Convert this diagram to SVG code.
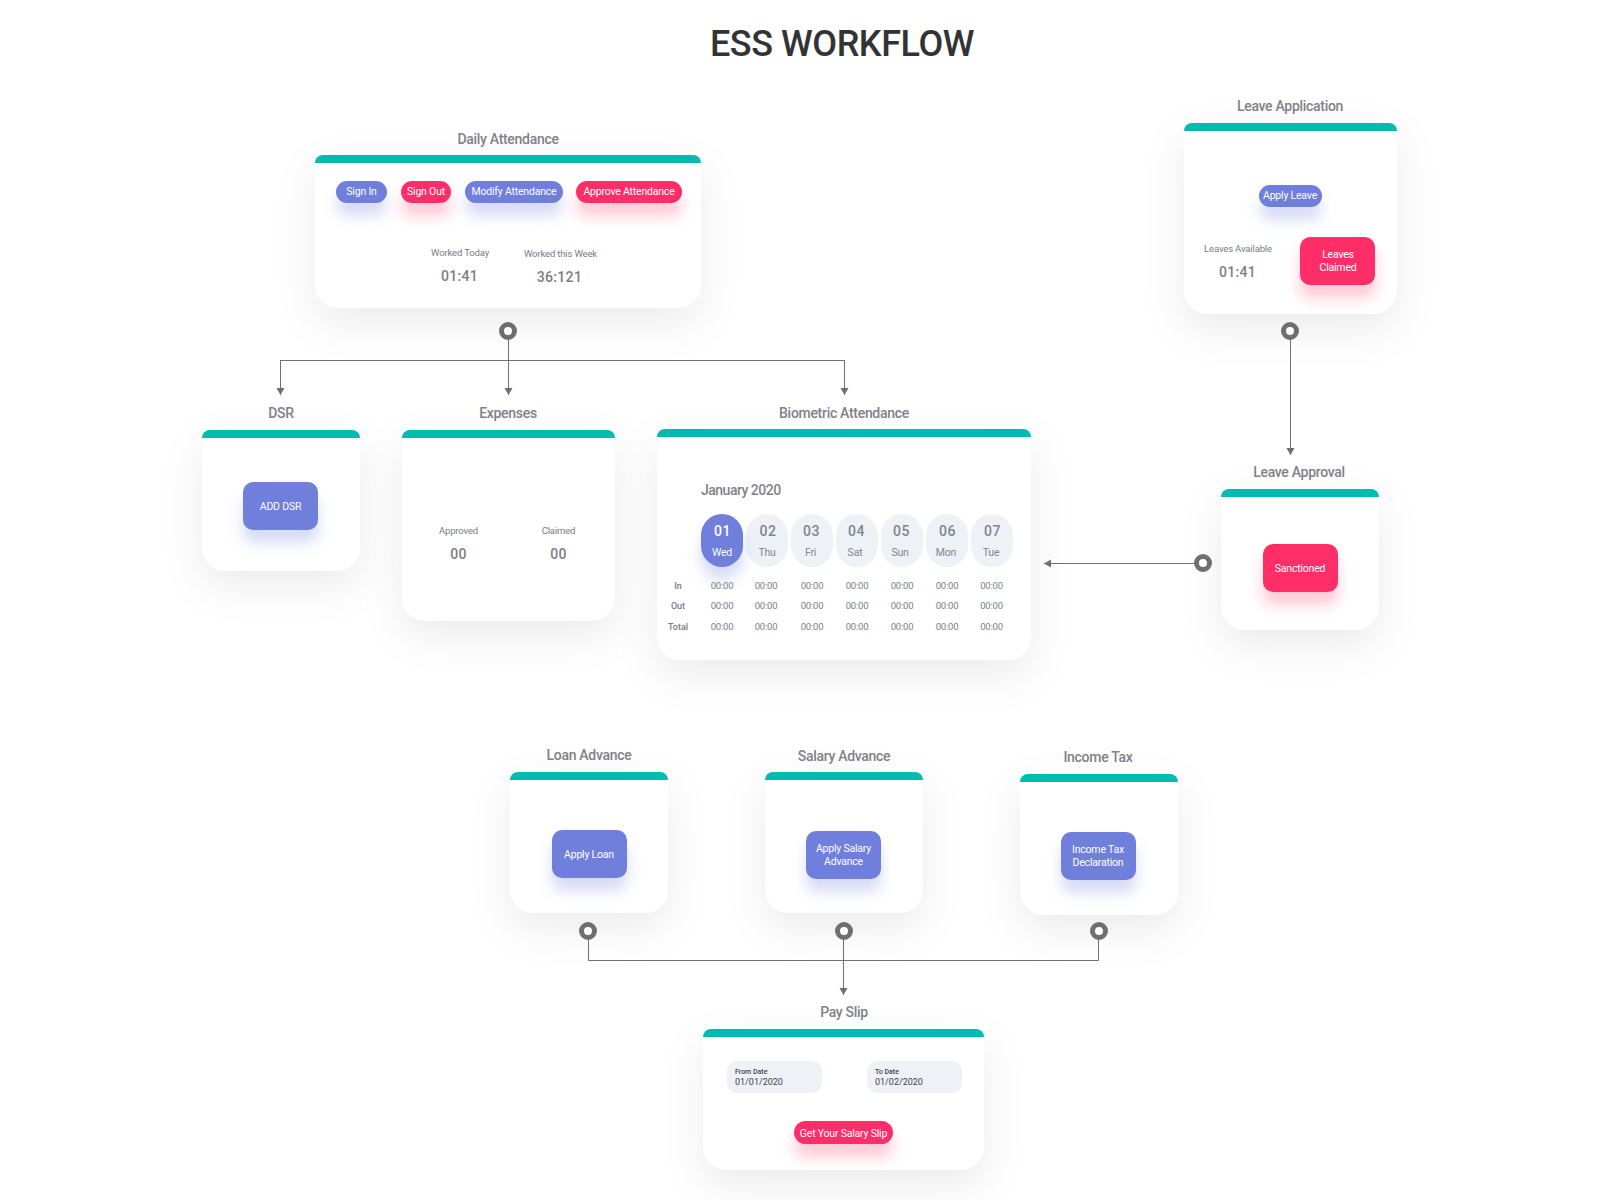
<svg xmlns="http://www.w3.org/2000/svg" width="1600" height="1200" viewBox="0 0 1600 1200">
<style>
text{font-family:Roboto,"Noto Sans",sans-serif;text-anchor:middle}
.bg{fill:#fff}
.card{fill:#fff;filter:url(#cs)}
.bar{fill:#00bcb0}
.h{font-size:14px;font-weight:500;fill:#7f8289;letter-spacing:-.3px}
.blue{fill:#707edc;filter:url(#bs)}
.pink{fill:#ff2f68;filter:url(#ps)}
.b{font-size:10.5px;fill:#fff;letter-spacing:-.2px}
.s{font-size:9.5px;fill:#767c86;letter-spacing:-.15px}
.v{font-size:14px;font-weight:500;fill:#7b7e85;letter-spacing:.3px}
.day{fill:#eef1f6}
.n{font-size:14px;font-weight:500;fill:#7f858c;letter-spacing:.5px}
.d{font-size:10.5px;fill:#7f858c;letter-spacing:-.2px}
.rl{font-size:9px;font-weight:500;fill:#767c86}
.rv{font-size:9.5px;fill:#7a808a;letter-spacing:-.2px}
.ln{fill:none;stroke:#6f6f6f;stroke-width:1}
.ar{marker-end:url(#ah)}
.ring{fill:#fff;stroke:#6f6f6f;stroke-width:5}
.fld{fill:#eef1f6}
.fl{font-size:7px;font-weight:500;fill:#3d424c;text-anchor:start}
.fv{font-size:9px;fill:#3d424c;text-anchor:start}
</style>
<defs>
<filter id="cs" x="-40%" y="-40%" width="180%" height="200%"><feDropShadow dx="0" dy="15" stdDeviation="20" flood-color="#000" flood-opacity=".08"/></filter>
<filter id="bs" x="-50%" y="-50%" width="200%" height="350%"><feDropShadow dx="0" dy="13" stdDeviation="7" flood-color="#707edc" flood-opacity=".28"/></filter>
<filter id="ps" x="-50%" y="-50%" width="200%" height="350%"><feDropShadow dx="0" dy="13" stdDeviation="7" flood-color="#ff2f68" flood-opacity=".26"/></filter>
<marker id="ah" markerUnits="userSpaceOnUse" markerWidth="10" markerHeight="10" refX="7" refY="4" orient="auto"><path d="M0 0L7 4L0 8Z" fill="#6f6f6f"/></marker>
</defs>
<rect class="bg" width="1600" height="1200"/>
<text id="title" x="842" y="56" style="font-size:36px;font-weight:500;fill:#333;letter-spacing:-.45px">ESS WORKFLOW</text>

<g id="daily-attendance">
<text class="h" x="508" y="144">Daily Attendance</text>
<path class="card" d="M315 163a8 8 0 0 1 8-8H693a8 8 0 0 1 8 8V284a24 24 0 0 1-24 24H339a24 24 0 0 1-24-24Z"/>
<path class="bar" d="M315 163a8 8 0 0 1 8-8H693a8 8 0 0 1 8 8Z"/>
<rect class="blue" x="336" y="181" width="51" height="22" rx="11"/><text class="b" x="361.5" y="195">Sign In</text>
<rect class="pink" x="401" y="181" width="50" height="22" rx="11"/><text class="b" x="426" y="195">Sign Out</text>
<rect class="blue" x="465" y="181" width="98" height="22" rx="11"/><text class="b" x="514" y="195">Modify Attendance</text>
<rect class="pink" x="576" y="181" width="106" height="22" rx="11"/><text class="b" x="629" y="195">Approve Attendance</text>
<text class="s" x="460" y="256">Worked Today</text><text class="v" x="459.5" y="280.500">01:41</text>
<text class="s" x="560.5" y="257">Worked this Week</text><text class="v" x="559.5" y="281.500">36:121</text>
</g>

<g id="leave-application">
<text class="h" x="1290" y="111">Leave Application</text>
<path class="card" d="M1184 131a8 8 0 0 1 8-8H1389a8 8 0 0 1 8 8V290a24 24 0 0 1-24 24H1208a24 24 0 0 1-24-24Z"/>
<path class="bar" d="M1184 131a8 8 0 0 1 8-8H1389a8 8 0 0 1 8 8Z"/>
<rect class="blue" x="1259" y="185" width="63" height="22" rx="11"/><text class="b" x="1290" y="199">Apply Leave</text>
<text class="s" x="1238" y="252">Leaves Available</text><text class="v" x="1237.5" y="276.500">01:41</text>
<rect class="pink" x="1300" y="237" width="75" height="48" rx="10"/><text class="b" x="1338" y="258">Leaves</text><text class="b" x="1338" y="271">Claimed</text>
</g>

<g id="dsr">
<text class="h" x="281" y="418">DSR</text>
<path class="card" d="M202 438a8 8 0 0 1 8-8H352a8 8 0 0 1 8 8V547a24 24 0 0 1-24 24H226a24 24 0 0 1-24-24Z"/>
<path class="bar" d="M202 438a8 8 0 0 1 8-8H352a8 8 0 0 1 8 8Z"/>
<rect class="blue" x="243" y="482" width="75" height="48" rx="10"/><text class="b" x="280.5" y="510">ADD DSR</text>
</g>

<g id="expenses">
<text class="h" x="508" y="418">Expenses</text>
<path class="card" d="M402 438a8 8 0 0 1 8-8H607a8 8 0 0 1 8 8V597a24 24 0 0 1-24 24H426a24 24 0 0 1-24-24Z"/>
<path class="bar" d="M402 438a8 8 0 0 1 8-8H607a8 8 0 0 1 8 8Z"/>
<text class="s" x="458.500" y="534">Approved</text><text class="v" x="458.5" y="558.500">00</text>
<text class="s" x="558.5" y="534">Claimed</text><text class="v" x="558.5" y="558.500">00</text>
</g>

<g id="biometric-attendance">
<text class="h" x="844" y="418">Biometric Attendance</text>
<path class="card" d="M657 437a8 8 0 0 1 8-8H1023a8 8 0 0 1 8 8V636a24 24 0 0 1-24 24H681a24 24 0 0 1-24-24Z"/>
<path class="bar" d="M657 437a8 8 0 0 1 8-8H1023a8 8 0 0 1 8 8Z"/>
<text class="h" x="701" y="495" style="text-anchor:start;letter-spacing:-.5px">January 2020</text>
<rect class="day" x="746" y="514" width="42" height="53" rx="21"/>
<rect class="day" x="791" y="514" width="42" height="53" rx="21"/>
<rect class="day" x="836" y="514" width="42" height="53" rx="21"/>
<rect class="day" x="881" y="514" width="42" height="53" rx="21"/>
<rect class="day" x="926" y="514" width="42" height="53" rx="21"/>
<rect class="day" x="971" y="514" width="42" height="53" rx="21"/>
<rect class="blue" x="701" y="514" width="42" height="53" rx="21"/>
<text class="n" x="722.5" y="535.500" style="fill:#fff">01</text><text class="d" x="722" y="556" style="fill:#fff">Wed</text>
<text class="n" x="768" y="535.500">02</text><text class="d" x="767" y="556">Thu</text>
<text class="n" x="811.5" y="535.500">03</text><text class="d" x="810.5" y="556">Fri</text>
<text class="n" x="856.5" y="535.500">04</text><text class="d" x="855" y="556">Sat</text>
<text class="n" x="901.5" y="535.500">05</text><text class="d" x="900" y="556">Sun</text>
<text class="n" x="947.5" y="535.500">06</text><text class="d" x="946" y="556">Mon</text>
<text class="n" x="992.5" y="535.500">07</text><text class="d" x="991" y="556">Tue</text>
<text class="rl" x="678" y="589">In</text>
<text class="rv" x="722" y="589">00:00</text><text class="rv" x="766" y="589">00:00</text><text class="rv" x="812" y="589">00:00</text><text class="rv" x="857" y="589">00:00</text><text class="rv" x="902" y="589">00:00</text><text class="rv" x="947" y="589">00:00</text><text class="rv" x="991.5" y="589">00:00</text>
<text class="rl" x="678" y="609">Out</text>
<text class="rv" x="722" y="609">00:00</text><text class="rv" x="766" y="609">00:00</text><text class="rv" x="812" y="609">00:00</text><text class="rv" x="857" y="609">00:00</text><text class="rv" x="902" y="609">00:00</text><text class="rv" x="947" y="609">00:00</text><text class="rv" x="991.5" y="609">00:00</text>
<text class="rl" x="678" y="630">Total</text>
<text class="rv" x="722" y="630">00:00</text><text class="rv" x="766" y="630">00:00</text><text class="rv" x="812" y="630">00:00</text><text class="rv" x="857" y="630">00:00</text><text class="rv" x="902" y="630">00:00</text><text class="rv" x="947" y="630">00:00</text><text class="rv" x="991.5" y="630">00:00</text>
</g>

<g id="leave-approval">
<text class="h" x="1299" y="477">Leave Approval</text>
<path class="card" d="M1221 497a8 8 0 0 1 8-8H1371a8 8 0 0 1 8 8V606a24 24 0 0 1-24 24H1245a24 24 0 0 1-24-24Z"/>
<path class="bar" d="M1221 497a8 8 0 0 1 8-8H1371a8 8 0 0 1 8 8Z"/>
<rect class="pink" x="1263" y="544" width="75" height="48" rx="10"/><text class="b" x="1300" y="572">Sanctioned</text>
</g>

<g id="loan-advance">
<text class="h" x="589" y="760">Loan Advance</text>
<path class="card" d="M510 780a8 8 0 0 1 8-8H660a8 8 0 0 1 8 8V889a24 24 0 0 1-24 24H534a24 24 0 0 1-24-24Z"/>
<path class="bar" d="M510 780a8 8 0 0 1 8-8H660a8 8 0 0 1 8 8Z"/>
<rect class="blue" x="552" y="830" width="75" height="48" rx="10"/><text class="b" x="589" y="858">Apply Loan</text>
</g>

<g id="salary-advance">
<text class="h" x="844" y="761">Salary Advance</text>
<path class="card" d="M765 780a8 8 0 0 1 8-8H915a8 8 0 0 1 8 8V889a24 24 0 0 1-24 24H789a24 24 0 0 1-24-24Z"/>
<path class="bar" d="M765 780a8 8 0 0 1 8-8H915a8 8 0 0 1 8 8Z"/>
<rect class="blue" x="806" y="831" width="75" height="48" rx="10"/><text class="b" x="843.500" y="852">Apply Salary</text><text class="b" x="843.500" y="865">Advance</text>
</g>

<g id="income-tax">
<text class="h" x="1098" y="762">Income Tax</text>
<path class="card" d="M1020 782a8 8 0 0 1 8-8H1170a8 8 0 0 1 8 8V891a24 24 0 0 1-24 24H1044a24 24 0 0 1-24-24Z"/>
<path class="bar" d="M1020 782a8 8 0 0 1 8-8H1170a8 8 0 0 1 8 8Z"/>
<rect class="blue" x="1061" y="832" width="75" height="48" rx="10"/><text class="b" x="1098" y="853">Income Tax</text><text class="b" x="1098" y="866">Declaration</text>
</g>

<g id="pay-slip">
<text class="h" x="844" y="1017">Pay Slip</text>
<path class="card" d="M703 1037a8 8 0 0 1 8-8H976a8 8 0 0 1 8 8V1146a24 24 0 0 1-24 24H727a24 24 0 0 1-24-24Z"/>
<path class="bar" d="M703 1037a8 8 0 0 1 8-8H976a8 8 0 0 1 8 8Z"/>
<rect class="fld" x="727" y="1061" width="95" height="32" rx="10"/><text class="fl" x="735" y="1074">From Date</text><text class="fv" x="735" y="1085">01/01/2020</text>
<rect class="fld" x="867" y="1061" width="95" height="32" rx="10"/><text class="fl" x="875" y="1074">To Date</text><text class="fv" x="875" y="1085">01/02/2020</text>
<rect class="pink" x="794" y="1121" width="99" height="23" rx="11.500"/><text class="b" x="843.500" y="1137">Get Your Salary Slip</text>
</g>

<g id="connectors">
<path class="ln" d="M280.500 360.500H844.500"/>
<path class="ln ar" d="M508.500 331V395"/>
<path class="ln ar" d="M280.500 360V395"/>
<path class="ln ar" d="M844.500 360V395"/>
<path class="ln ar" d="M1290.500 331V455"/>
<path class="ln ar" d="M1203 563.500H1044"/>
<path class="ln" d="M588.500 931V960.500H1098.500V931"/>
<path class="ln ar" d="M843.500 931V995"/>
<circle class="ring" cx="508" cy="331" r="6.500"/>
<circle class="ring" cx="1290" cy="331" r="6.500"/>
<circle class="ring" cx="1203" cy="563" r="6.500"/>
<circle class="ring" cx="588" cy="931" r="6.500"/>
<circle class="ring" cx="844" cy="931" r="6.500"/>
<circle class="ring" cx="1099" cy="931" r="6.500"/>
</g>
</svg>
